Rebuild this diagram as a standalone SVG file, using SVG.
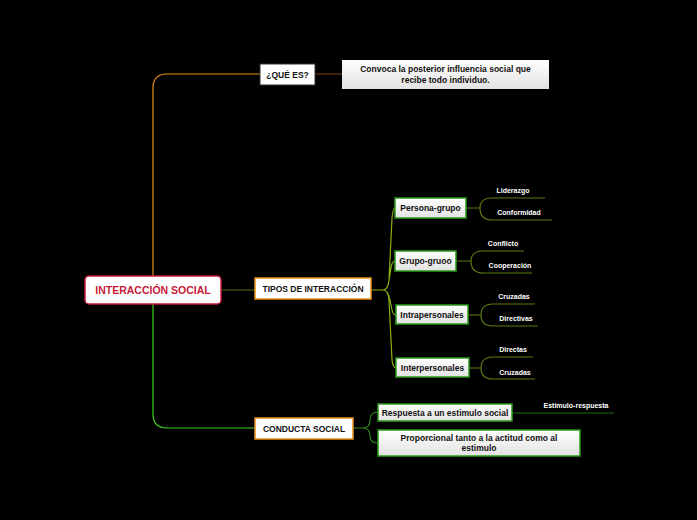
<svg xmlns="http://www.w3.org/2000/svg" width="697" height="520" viewBox="0 0 697 520">
<defs>
<linearGradient id="g" x1="0" y1="0" x2="0" y2="1"><stop offset="0" stop-color="#ffffff"/><stop offset="1" stop-color="#e2e2e2"/></linearGradient>
</defs>
<style>
text{font-family:"Liberation Sans",Arial,sans-serif;font-weight:bold;text-anchor:middle}
.n{font-size:8.5px;fill:#111}
.l{font-size:7px;fill:#fff}
.c{fill:none;stroke-width:1.2}
.gb{fill:url(#g);stroke:#2c9a1a;stroke-width:1.5}
</style>
<rect width="697" height="520" fill="#000"/>
<g id="connectors">
<path class="c" d="M153 276 V88 Q153 74 167 74 H260" stroke="#e8901a" stroke-width="2"/>
<path class="c" d="M315 74 H342" stroke="#6a3a10"/>
<path class="c" d="M221 290 H255" stroke="#556b10"/>
<path class="c" d="M153 304 V414 Q153 428 167 428 H255" stroke="#3ad21a" stroke-width="2"/>
<path class="c" d="M371 290 H383 Q388 290 389 280 L392 218 Q393 208 395 208 M383 290 Q388 290 389 280 L391 268 Q392 261 395 261 M383 290 Q388 290 390 300 L392 310 Q393 315 396 315 M383 290 Q388 290 389 300 L392 360 Q393 368 396 368" stroke="#8ab010"/>
<path class="c" d="M466 208 H480 M480 208 Q480 198 492 198 H545 M480 208 Q480 220 492 220 H552" stroke="#5a7a10"/>
<path class="c" d="M456 261 H471 M471 261 Q471 251 483 251 H524 M471 261 Q471 273 483 273 H532" stroke="#5a7a10"/>
<path class="c" d="M468 315 H481 M481 315 Q481 304 493 304 H535 M481 315 Q481 326 493 326 H538" stroke="#5a7a10"/>
<path class="c" d="M469 368 H481 M481 368 Q481 357 493 357 H533 M481 368 Q481 379 493 379 H535" stroke="#5a7a10"/>
<path class="c" d="M353 428 H363 Q370 428 370 420 Q370 412 378 412 M363 428 Q370 428 370 436 Q370 443 378 443" stroke="#2c8a1a"/>
<path class="c" d="M512 413 H614" stroke="#1f6a14"/>
</g>
<g id="root"><rect x="85" y="276" width="136" height="28" rx="4" fill="#fff" stroke="#c41a3a" stroke-width="1.5"/><text x="153" y="294" font-size="10.5px" fill="#c41a3a">INTERACCIÓN SOCIAL</text></g>
<g id="que"><rect x="260" y="64" width="55" height="21" fill="#fff" stroke="#333" stroke-width="1"/><text class="n" x="287.5" y="78">¿QUÉ ES?</text></g>
<g id="desc"><rect x="342" y="60" width="207" height="29" fill="url(#g)"/><text class="n" x="445.5" y="72">Convoca la posterior influencia social que</text><text class="n" x="445.5" y="83">recibe todo individuo.</text></g>
<g id="tipos"><rect x="255" y="278" width="116" height="21" fill="#fff" stroke="#e8901a" stroke-width="1.5"/><text class="n" x="313" y="292">TIPOS DE INTERACCIÓN</text></g>
<g id="conducta"><rect x="255" y="418" width="98" height="21" fill="#fff" stroke="#e8901a" stroke-width="1.5"/><text class="n" x="304" y="432">CONDUCTA SOCIAL</text></g>
<g id="pg"><rect class="gb" x="395" y="198" width="71" height="20"/><text class="n" x="430.5" y="211">Persona-grupo</text></g>
<g id="gg"><rect class="gb" x="395" y="251" width="61" height="20"/><text class="n" x="425.5" y="264">Grupo-gruoo</text></g>
<g id="intra"><rect class="gb" x="396" y="305" width="72" height="19"/><text class="n" x="432" y="318">Intrapersonales</text></g>
<g id="inter"><rect class="gb" x="396" y="358" width="73" height="19"/><text class="n" x="432.5" y="371">Interpersonales</text></g>
<g id="resp"><rect class="gb" x="378" y="404" width="134" height="17"/><text class="n" x="445" y="416">Respuesta a un estimulo social</text></g>
<g id="prop"><rect class="gb" x="378" y="430" width="202" height="26"/><text class="n" x="479" y="441">Proporcional tanto a la actitud como al</text><text class="n" x="479" y="451">estimulo</text></g>
<g id="leaves">
<text class="l" x="513" y="193">Liderazgo</text>
<text class="l" x="519" y="215">Conformidad</text>
<text class="l" x="503" y="246">Conflicto</text>
<text class="l" x="510" y="268">Cooperación</text>
<text class="l" x="514" y="299">Cruzadas</text>
<text class="l" x="516" y="321">Directivas</text>
<text class="l" x="513" y="352">Directas</text>
<text class="l" x="515" y="375">Cruzadas</text>
<text class="l" x="576" y="408">Estimulo-respuesta</text>
</g>
</svg>
